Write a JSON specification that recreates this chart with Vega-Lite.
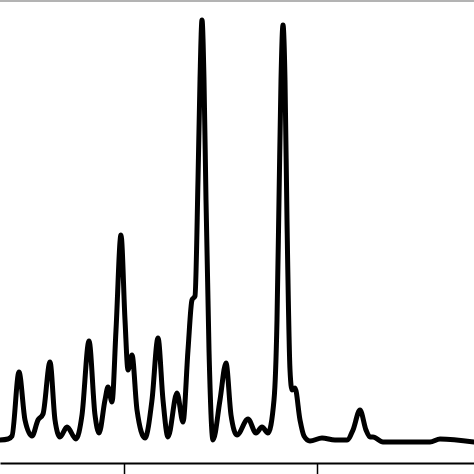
{
  "$schema": "https://vega.github.io/schema/vega-lite/v6.json",
  "width": 474,
  "height": 463,
  "autosize": "none",
  "padding": {"top": 0, "left": 0, "right": 0, "bottom": 11},
  "background": "white",
  "layer": [
    {
      "data": {
        "values": [
          {"x": 0, "y": 23}, {"x": 8, "y": 24}, {"x": 12, "y": 27}, {"x": 19, "y": 91},
          {"x": 25, "y": 43}, {"x": 32, "y": 27}, {"x": 38, "y": 43}, {"x": 43, "y": 49},
          {"x": 50, "y": 101}, {"x": 55, "y": 43}, {"x": 60, "y": 26}, {"x": 67, "y": 36},
          {"x": 76, "y": 24}, {"x": 82, "y": 48}, {"x": 89, "y": 122}, {"x": 95, "y": 48},
          {"x": 99, "y": 30}, {"x": 105, "y": 63}, {"x": 108, "y": 76}, {"x": 112, "y": 61},
          {"x": 116, "y": 133}, {"x": 121, "y": 228}, {"x": 125, "y": 143}, {"x": 128, "y": 93},
          {"x": 132, "y": 108}, {"x": 137, "y": 53}, {"x": 145, "y": 25}, {"x": 152, "y": 63},
          {"x": 158, "y": 125}, {"x": 163, "y": 63}, {"x": 168, "y": 26}, {"x": 177, "y": 70},
          {"x": 183, "y": 41}, {"x": 188, "y": 113}, {"x": 192, "y": 163}, {"x": 195, "y": 167},
          {"x": 198, "y": 283}, {"x": 200, "y": 383}, {"x": 202, "y": 443}, {"x": 204, "y": 383},
          {"x": 206, "y": 263}, {"x": 209, "y": 113}, {"x": 213, "y": 23}, {"x": 220, "y": 63},
          {"x": 226, "y": 100}, {"x": 231, "y": 48}, {"x": 237, "y": 28}, {"x": 248, "y": 44},
          {"x": 256, "y": 30}, {"x": 262, "y": 36}, {"x": 268, "y": 30}, {"x": 274, "y": 63},
          {"x": 277, "y": 143}, {"x": 279, "y": 263}, {"x": 281, "y": 383}, {"x": 283, "y": 438},
          {"x": 285, "y": 383}, {"x": 287, "y": 243}, {"x": 290, "y": 93}, {"x": 292, "y": 73},
          {"x": 295, "y": 75}, {"x": 300, "y": 43}, {"x": 304, "y": 27}, {"x": 310, "y": 22},
          {"x": 322, "y": 25}, {"x": 335, "y": 23}, {"x": 347, "y": 23}, {"x": 353, "y": 33},
          {"x": 360, "y": 53}, {"x": 366, "y": 33}, {"x": 370, "y": 26}, {"x": 373, "y": 26},
          {"x": 383, "y": 21}, {"x": 430, "y": 21}, {"x": 440, "y": 24}, {"x": 474, "y": 21}
        ]
      },
      "mark": {"type": "line", "color": "black", "strokeWidth": 5, "interpolate": "monotone", "strokeJoin": "round", "strokeCap": "round"},
      "encoding": {
        "x": {
          "field": "x",
          "type": "quantitative",
          "scale": {"domain": [0, 474], "nice": false, "zero": false},
          "axis": {
            "values": [124, 317],
            "labels": false,
            "title": null,
            "grid": false,
            "domainColor": "black",
            "domainWidth": 2,
            "tickColor": "black",
            "tickWidth": 1.5,
            "tickSize": 11
          }
        },
        "y": {
          "field": "y",
          "type": "quantitative",
          "scale": {"domain": [0, 463], "nice": false},
          "axis": null
        }
      }
    },
    {
      "data": {"values": [{"top": 462}]},
      "mark": {"type": "rule", "color": "#b3b3b3", "strokeWidth": 2},
      "encoding": {
        "y": {"field": "top", "type": "quantitative"}
      }
    }
  ],
  "config": {
    "view": {"stroke": null}
  }
}
